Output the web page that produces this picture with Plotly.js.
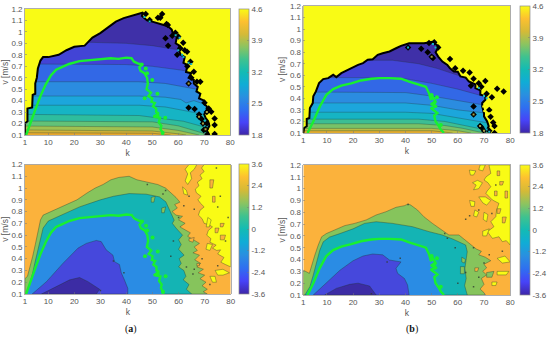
<!DOCTYPE html>
<html><head><meta charset="utf-8">
<script src="https://cdn.plot.ly/plotly-3.0.1.min.js"></script>
<style>html,body{margin:0;padding:0;background:#fff}#c{width:550px;height:338px}</style>
</head><body><div id="c"></div>
<script>
const kTicks=[1,10,20,30,40,50,60,70,80];
const vTicks=[0.1,0.2,0.3,0.4,0.5,0.6,0.7,0.8,0.9,1,1.1,1.2];
const topBarTicks=[1.8,2.5,3.2,3.9,4.6];
const botBarTicks=[-3.6,-2.4,-1.2,0,1.2,2.4,3.6];

// ---- panel (a), top: outer boundary, contour levels (top band to bottom band)
const aOuter=[[1,.1],[1,.2],[2,.22],[2,.33],[3.8,.34],[4,.45],[5,.46],[5,.55],[5.6,.6],[6,.68],[7,.75],[8,.78],[10,.78],[12,.79],[14,.8],[17,.84],[20,.87],[24,.88],[27,.95],[30,.99],[33,1.04],[36,1.09],[39,1.12],[42,1.14],[45,1.16],[46.5,1.17],[46,1.14],[48,1.1],[50,1.09],[53,1.07],[56,1.05],[57.5,1.02],[58,.98],[59.5,.96],[59,.9],[60.5,.88],[60,.85],[61,.8],[62.5,.78],[62,.73],[63.5,.71],[63,.65],[65,.64],[64,.6],[66,.58],[66,.55],[67.5,.52],[67,.48],[68.5,.46],[68,.42],[70,.4],[70,.37],[71,.35],[71,.32],[70,.28],[70.5,.25],[71.5,.22],[72,.18],[71,.14],[72,.1]];
const aLevels=[
 [[1,.91],[25,.91],[40,.9],[50,.88],[58,.85],[80,.8]],
 [[1,.72],[10,.72],[40,.715],[50,.7],[60,.67],[80,.6]],
 [[1,.565],[45,.565],[55,.55],[63,.52],[67,.5],[80,.47]],
 [[1,.44],[45,.44],[55,.43],[61,.41],[63,.38],[66,.4],[70,.37],[80,.35]],
 [[1,.36],[45,.36],[55,.345],[61,.32],[70,.28],[80,.25]],
 [[1,.28],[45,.27],[55,.24],[62,.22],[70,.17],[80,.12]],
 [[1,.222],[50,.215],[60,.18],[66,.14],[72,.1]],
 [[1,.178],[50,.17],[60,.14],[68,.1]],
 [[1,.144],[50,.135],[60,.11],[63,.1]],
 [[1,.12],[50,.115],[57,.1]]
];
const aRidge=[[1.5,.1],[3,.2],[5,.32],[7,.44],[9,.54],[11,.62],[13,.67],[15,.69],[18,.72],[22,.745],[26,.755],[30,.76],[34,.77],[37,.765],[40,.775],[42,.77],[43,.74],[45,.72],[46.5,.72],[45,.69],[45.5,.66],[47,.64],[48,.6],[48.3,.55],[47.8,.5],[49.5,.47],[48.5,.44],[50,.42],[49.7,.39],[51,.38],[50.3,.35],[51.5,.33],[51.5,.3],[52.5,.29],[50.5,.26],[53,.25],[52.5,.21],[53.5,.18],[53.2,.15],[54,.12],[54,.1]];
const aRidgeDots=[[47.5,.68],[48,.64],[50,.58],[52,.46],[47.1,.42],[55,.25],[52,.27],[54,.12]];
const aDiamonds=[[47.5,1.156],[49,1.104],[52.2,1.124],[53.1,1.124],[53.8,1.156],[55.5,1.069],[56,1.06],[58.9,.993],[57.7,.967],[60,.959],[55.1,.944],[61.9,.906],[56.1,.88],[60.8,.857],[62.5,.84],[63.4,.827],[59.6,.8],[64.7,.74],[63.5,.7],[66,.653],[65,.6],[68.5,.565],[67.2,.565],[64,.338],[66.3,.327],[70.1,.382],[71.7,.332],[72.7,.303],[74,.245],[74,.187],[71,.2],[69.8,.143],[74,.108],[71,.1],[68,.28],[69,.24],[68,.26],[69.5,.2],[70.5,.15],[71,.3],[64,.55]];
const aSpecksCyan=[[47,1.13],[49,1.09],[60,.84],[61.5,.8],[62,.78],[64,.73],[65,.72],[60.5,.95],[59,.97]];
const aSpecksOlive=[[68,.26],[69.5,.2],[70.5,.15],[71,.3],[64,.55]];

// ---- panel (b), top
const bOuter=[[1,.1],[1.3,.143],[2.3,.158],[2.3,.221],[3.3,.23],[3.5,.316],[4.6,.359],[4.8,.417],[5.8,.46],[6.3,.497],[7,.532],[8.6,.567],[10.5,.575],[12.4,.604],[13.6,.584],[15.5,.618],[17.4,.641],[19.3,.662],[21.9,.69],[23.8,.705],[25.6,.734],[27.5,.739],[29.4,.777],[31.3,.791],[33.9,.806],[36.4,.834],[38.3,.855],[41.4,.878],[47.1,.878],[50.3,.89],[52.8,.849],[51.5,.8],[52.5,.762],[54.1,.719],[56,.69],[57,.66],[58.5,.633],[60,.63],[61,.59],[63,.58],[64.2,.546],[66.7,.52],[66.7,.489],[68.6,.47],[68.6,.431],[70.5,.42],[70.5,.388],[69.3,.36],[69.3,.33],[70,.27],[70,.244],[71.2,.2],[71.8,.158],[71.2,.13],[72.4,.1]];
const bLevels=[
 [[1,.73],[24,.73],[35,.73],[45,.7],[52,.66],[60,.6],[65,.56],[80,.5]],
 [[1,.58],[30,.58],[40,.57],[50,.53],[60,.48],[68,.43],[80,.4]],
 [[1,.455],[40,.45],[50,.42],[60,.38],[68,.35],[80,.32]],
 [[1,.36],[40,.36],[50,.34],[60,.3],[68,.28],[80,.24]],
 [[1,.28],[40,.28],[50,.27],[60,.23],[68,.2],[80,.16]],
 [[1,.22],[45,.22],[55,.2],[62,.17],[70,.13],[80,.1]],
 [[1,.18],[45,.18],[55,.165],[62,.14],[68,.11],[72,.1]],
 [[1,.14],[50,.14],[60,.12],[65,.1]],
 [[1,.12],[50,.12],[58,.1]]
];
const bRidge=[[2.6,.1],[4.8,.2],[7.3,.33],[9.8,.43],[12.4,.48],[15.5,.51],[19.3,.53],[23,.555],[27,.57],[30,.575],[33.9,.575],[38.3,.57],[41.4,.545],[44.6,.52],[47.8,.5],[49,.445],[49.7,.388],[50.5,.41],[51.5,.37],[49.7,.35],[52,.33],[49.7,.316],[52.2,.273],[51,.25],[51.5,.2],[52.8,.158],[53.5,.13],[54.7,.1]];
const bRidgeDots=[[50,.43],[52,.41],[53.5,.17],[51,.36]];
const bDiamonds=[[41,.84],[46,.83],[48.5,.8],[49,.88],[51,.885],[52.5,.84],[50.5,.75],[57,.74],[59,.66],[62,.64],[64.5,.625],[66,.57],[65,.51],[68,.53],[70.5,.55],[69,.5],[71,.44],[73,.41],[75,.483],[77.5,.46],[66,.33],[66,.26],[72,.3],[72.5,.24],[73.5,.19],[74,.16],[72,.12],[74,.1],[69,.15],[68.5,.16],[70,.12],[50,.76]];
const bSpecksCyan=[[50.5,.87],[51.5,.84],[41,.84],[68,.49],[70,.42],[71,.4],[72,.11],[71,.13]];
const bSpecksOlive=[[66,.26],[68.5,.16],[70,.12],[50,.76]];
const bSpecksYellow=[[69.7,.33],[70.1,.29],[72,.27]];

// ---- panel (a), bottom
const cGreen=[[1,.1],[1,.23],[2,.25],[3,.33],[4,.42],[5,.52],[6,.63],[7,.73],[8,.77],[10,.79],[13,.82],[17,.86],[21,.9],[25,.96],[28,1],[31,1.03],[34,1.07],[37,1.09],[41,1.1],[44,1.07],[47.5,1.05],[52,1.03],[55,1],[57,.96],[59,.92],[60.5,.88],[58.5,.86],[59.5,.83],[57.5,.8],[59,.77],[61.5,.76],[60,.73],[62.5,.7],[60.5,.67],[62,.65],[64.5,.62],[63.5,.59],[65.5,.56],[68,.53],[66,.5],[67.2,.47],[65.5,.45],[68,.43],[66.2,.39],[68.5,.36],[67,.33],[69.5,.31],[67.5,.28],[70,.26],[68.2,.23],[70.5,.2],[69,.17],[71,.14],[69.5,.12],[71,.1]];
const cTeal=[[2,.1],[3,.18],[4,.28],[5,.38],[6,.48],[7,.58],[8,.66],[10,.72],[14,.76],[18,.8],[22,.84],[26,.87],[30,.9],[35,.93],[41,.953],[47.5,.948],[52.6,.925],[55.1,.883],[57,.784],[58.3,.727],[57.6,.7],[59,.66],[61.5,.6],[60,.56],[61,.52],[60,.48],[62.1,.43],[60.2,.4],[61,.36],[60,.33],[62,.3],[62.8,.25],[61.8,.22],[64,.18],[63,.14],[65,.1]];
const cIndigo=[[3.8,.1],[9.3,.205],[15.6,.36],[21.4,.49],[24.6,.53],[28.4,.555],[30.3,.545],[32.2,.475],[34.8,.43],[35.4,.375],[37.3,.35],[38,.28],[39.2,.22],[40.5,.148],[40.5,.1]];
const cDark=[[7.4,.1],[13.1,.162],[18.2,.22],[22,.24],[25.2,.205],[29.7,.14],[28.4,.1]];
const cYellow=[[69.8,1.2],[68.8,1.17],[69.8,1.14],[68.2,1.11],[69,1.08],[67.2,1.05],[67.8,1.02],[66.4,.99],[66.8,.96],[68.6,.93],[67.4,.9],[68.4,.87],[69.8,.84],[68.2,.81],[67.6,.77],[69,.74],[69.8,.7],[71.5,.69],[73,.67],[71.4,.64],[70.8,.6],[72.4,.57],[72,.54],[74.4,.515],[73,.49],[74.6,.47],[76.1,.475],[75,.44],[77.4,.41],[76.2,.37],[78,.35],[80,.33],[80,1.2]];
const cYellowIslands=[
 [[64,1.2],[67,1.2],[66,1.16],[64.5,1.13],[65,1.08],[63.5,1.03],[62.5,1.06],[63.5,1.12],[62.5,1.16]],
 [[61.5,1.01],[63,.98],[63.5,.94],[62,.95]],
 [[71.2,.75],[72.5,.73],[71.8,.67],[70.6,.67]],
 [[74,.3],[77,.31],[79.5,.28],[77,.26],[75,.26]],
 [[72,.25],[74,.25],[74.5,.2],[73,.2]],
 [[71,.53],[73,.52],[72,.47],[70.5,.48]]
];
const cOrangeIslands=[[[72,1.07],[73.5,1.07],[73,1],[72,1]],[[73,.93],[74,.93],[74,.88],[73,.88]],[[74,.66],[75.5,.66],[75,.62],[74,.62]],[[76,.6],[78,.6],[77.5,.56],[76,.56]],[[76,.7],[77.5,.7],[77,.67],[76,.67]]];
const cGreenIslands=[[[53.5,.83],[55,.84],[54.5,.79],[53.5,.79]],[[49.5,.92],[51,.93],[50.5,.88],[49.5,.88]]];
const cOrangeOnGreen=[[[67,.36],[68,.36],[68,.34],[67,.34]],[[64,.57],[66,.58],[65.5,.54],[64,.55]]];
const cSpecks=[[74.5,1.17],[66,.31],[63,.33],[65.5,.27],[55,.98],[60,.75],[48,1.03],[54,.95],[58,.55],[39,.28],[35,.38],[64,.93],[66,.82],[62,.85],[75,.84],[78,.55],[72,.18],[69,.4],[75,.34],[57,.42],[76,.93],[79,.75],[30,.13]];

// ---- panel (b), bottom
const dGreen=[[1,.1],[1,.31],[3.3,.283],[4.2,.354],[5.4,.438],[6.7,.523],[8,.593],[9.8,.62],[13,.65],[16.8,.687],[20.6,.706],[25,.735],[28.8,.777],[32.6,.805],[36.4,.842],[39.6,.856],[41,.87],[42,.861],[44.6,.819],[47,.763],[50.3,.706],[54,.65],[56.6,.608],[60.4,.608],[63.6,.551],[65.5,.523],[67,.49],[69,.47],[68,.44],[70.5,.42],[72.6,.39],[70,.36],[71,.33],[69.5,.3],[71,.27],[69,.24],[70,.19],[68.5,.15],[70,.12],[70.5,.1]];
const dTeal=[[1.6,.1],[3.5,.17],[4.8,.27],[6,.38],[7.3,.48],[8.6,.55],[11,.59],[15,.62],[20,.66],[24.4,.706],[28.8,.72],[35,.706],[42.7,.678],[49,.636],[54,.608],[58,.574],[63,.523],[63.6,.466],[62.7,.325],[63.2,.24],[62.6,.18],[63.6,.1]];
const dIndigo=[[4.8,.1],[9.8,.2],[15,.31],[20,.39],[23.8,.43],[27.5,.447],[31.3,.44],[33.9,.396],[38.3,.38],[36.4,.326],[37,.283],[39.6,.24],[40.8,.185],[41.4,.1]];
const dDark=[[9.2,.1],[13.6,.156],[18.7,.19],[21.9,.2],[26.3,.176],[28.8,.1]];
const dYellow=[[71.9,1.2],[72.6,1.129],[70.8,1.1],[70,1.073],[71.5,1.05],[72.6,1.016],[71.2,.98],[70.7,.96],[73.2,.904],[75.7,.875],[74.8,.82],[74.5,.763],[72.6,.72],[73.8,.678],[71.3,.636],[73.2,.579],[75.7,.593],[77,.551],[78.5,.56],[80,.523],[80,1.2]];
const dYellowIslands=[
 [[64.4,1.157],[66.9,1.15],[66,1.115],[64.8,1.115]],
 [[65.6,1.05],[67.5,1.07],[69.4,1.05],[68,1],[66,.99],[67,1.03]],
 [[68,.93],[70.5,.93],[72.6,.9],[71,.86],[69.5,.88]],
 [[64.5,.9],[66.5,.89],[66.3,.85],[65,.85]],
 [[70,.8],[71.5,.78],[71,.72],[69.7,.74]],
 [[69.5,.64],[72,.66],[71,.6],[69.5,.6]],
 [[75,.3],[79.5,.3],[78.5,.27],[75,.27]],
 [[73,.21],[75,.21],[74.5,.18],[73,.18]],
 [[75,.41],[78,.43],[80,.38],[77,.37]],
 [[68.5,1.2],[70.5,1.2],[69.5,1.15],[68,1.16]],
 [[66.5,.82],[68,.8],[67.2,.76],[66,.77]]
];
const dOrangeIslands=[[[75,.83],[76.5,.83],[76,.79],[75,.79]],[[78,.98],[79,.98],[79,.92],[78,.92]],[[76,1.06],[77.5,1.06],[77,1.03],[76,1.03]],[[77,.76],[78.5,.76],[78,.71],[77,.71]],[[75,1.15],[76,1.15],[76,1.11],[75,1.11]],[[74,.98],[75,.98],[75,.94],[74,.94]]];
const dGreenIslands=[[[61,.34],[62.5,.34],[62.5,.28],[61,.28]],[[61.5,.42],[63,.4],[62.5,.37],[61.5,.38]],[[71,.29],[73.8,.3],[73,.25],[71,.25]]];
const dOrangeOnGreen=[[[66.5,.33],[68,.33],[67.5,.3],[66.5,.3]]];
const dSpecks=[[41,.865],[55,.62],[56,.58],[63,.74],[66,.5],[59,.5],[63,.29],[68,.25],[66,.17],[38,.41],[27,.11],[33,.38],[60,.2],[64.5,.77],[72,.44],[70,.37],[77,.47],[68,.82],[73,.79],[74.5,1.03]];

// ---- colour maps
const parula=[[0,'#3e26a8'],[.1,'#4743f8'],[.2,'#2f6ff0'],[.3,'#2a8fe0'],[.4,'#10acd6'],[.5,'#13bbb4'],[.6,'#3fc28f'],[.7,'#8cc460'],[.8,'#d5ba37'],[.9,'#fdc030'],[1,'#f9fb15']];
const bandsA=['#4244d6','#3268e6','#2b8ce0','#1ca6dc','#16b4c4','#2ebd9e','#62c278','#a0c050','#d0b238','#e6a82e'];
const bandsB=['#4244d6','#3268e6','#2b8ce0','#1ca6dc','#16b4c4','#3cbe94','#78c268','#b8bc44','#e0ac30'];
const C={y:'#f9fb15',band1:'#3f30a8',o:'#fbb23c',g:'#86c45c',t:'#14b4b4',b:'#2a8ce4',i:'#4648dc',d:'#3c2ca4',
 edge:'rgba(35,50,45,.6)',lime:'#18f030',ax:'#8c8c8c',txt:'#555'};

const W=550,H=338;
const panels=[
 {n:'',  l:25, r:231.5,t:9,  b:135},
 {n:'2', l:305,r:513,  t:6,  b:133},
 {n:'3', l:25, r:232,  t:164.5,b:294},
 {n:'4', l:305,r:513,  t:165,b:295}
];
const traces=[];
const X=p=>p.map(q=>q[0]), Y=p=>p.map(q=>q[1]);
function poly(i,pts,fill,lw){const a=panels[i].n;
 traces.push({type:'scatter',mode:lw?'lines':'none',x:X(pts).concat(pts[0][0]),y:Y(pts).concat(pts[0][1]),
  xaxis:'x'+a,yaxis:'y'+a,fill:'toself',fillcolor:fill,line:{color:C.edge,width:lw||0},hoverinfo:'skip',showlegend:false});}
function band(i,pts,fill){const a=panels[i].n;
 traces.push({type:'scatter',mode:'lines',x:X(pts),y:Y(pts),xaxis:'x'+a,yaxis:'y'+a,fill:'tozeroy',fillcolor:fill,
  line:{color:C.edge,width:.5},hoverinfo:'skip',showlegend:false});}
function line(i,pts,color,w){const a=panels[i].n;
 traces.push({type:'scatter',mode:'lines',x:X(pts),y:Y(pts),xaxis:'x'+a,yaxis:'y'+a,line:{color,width:w},hoverinfo:'skip',showlegend:false});}
function dots(i,pts,color,size,sym){const a=panels[i].n;
 traces.push({type:'scatter',mode:'markers',x:X(pts),y:Y(pts),xaxis:'x'+a,yaxis:'y'+a,
  marker:{color,size,symbol:sym||'circle',line:{width:0}},hoverinfo:'skip',showlegend:false});}
function rect(i,fill){poly(i,[[1,.1],[80,.1],[80,1.2],[1,1.2]],fill);}

function topPanel(i,outer,levels,bands,ridge,rdots,dia,cy,ol,ye){
 rect(i,C.band1);
 levels.forEach((lv,j)=>band(i,lv,bands[j]));
 poly(i,outer.concat([[80,.1],[80,1.2],[1,1.2]]),C.y);
 line(i,outer,'#000',2);
 dots(i,dia,'#000',5,'diamond');
 dots(i,cy,'#14b8c8',2,'square');
 dots(i,ol,'#a8a040',2,'square');
 if(ye)dots(i,ye,C.y,2,'square');
 line(i,ridge,C.lime,2.4);
 dots(i,rdots,C.lime,4);
}
function botPanel(i,green,teal,indigo,dark,yellow,yi,oi,gi,og,sp,ridge,rdots){
 rect(i,C.o);
 poly(i,green.concat([[1,.1]]),C.g,.6);
 poly(i,teal,C.t,.6);
 poly(i,[teal[0]].concat(ridge,[[2,.1]]),C.b);
 poly(i,indigo,C.i,.6);
 poly(i,dark,C.d,.6);
 poly(i,yellow,C.y,.6);
 yi.forEach(p=>poly(i,p,C.y,.6));
 oi.forEach(p=>poly(i,p,C.o,.6));
 gi.forEach(p=>poly(i,p,C.g,.6));
 og.forEach(p=>poly(i,p,C.o,.6));
 dots(i,sp,'rgba(50,60,50,.8)',1.5,'square');
 line(i,ridge,C.lime,2.4);
 dots(i,rdots,C.lime,4);
}
topPanel(0,aOuter,aLevels,bandsA,aRidge,aRidgeDots,aDiamonds,aSpecksCyan,aSpecksOlive);
topPanel(1,bOuter,bLevels,bandsB,bRidge,bRidgeDots,bDiamonds,bSpecksCyan,bSpecksOlive,bSpecksYellow);
botPanel(2,cGreen,cTeal,cIndigo,cDark,cYellow,cYellowIslands,cOrangeIslands,cGreenIslands,cOrangeOnGreen,cSpecks,aRidge,aRidgeDots);
botPanel(3,dGreen,dTeal,dIndigo,dDark,dYellow,dYellowIslands,dOrangeIslands,dGreenIslands,dOrangeOnGreen,dSpecks,bRidge,bRidgeDots);

// colorbars
const bars=[{x:240,p:0,min:1.8,max:4.6,t:topBarTicks},{x:523,p:1,min:1.8,max:4.6,t:topBarTicks},
            {x:240,p:2,min:-3.6,max:3.6,t:botBarTicks},{x:523,p:3,min:-3.6,max:3.6,t:botBarTicks}];
bars.forEach(b=>{const P=panels[b.p];
 traces.push({type:'scatter',mode:'markers',x:[40,40],y:[.5,.5],xaxis:'x'+P.n,yaxis:'y'+P.n,opacity:0,hoverinfo:'skip',showlegend:false,
  marker:{size:1,color:[b.min,b.max],cmin:b.min,cmax:b.max,colorscale:parula,showscale:true,
   colorbar:{x:b.x/W,xanchor:'left',xref:'paper',xpad:0,ypad:0,thickness:9.5,thicknessmode:'pixels',
    y:1-P.b/H,yanchor:'bottom',yref:'paper',len:P.b-P.t,lenmode:'pixels',outlinecolor:C.ax,outlinewidth:.7,borderwidth:0,
    tickmode:'array',tickvals:b.t,ticktext:b.t.map(String),ticks:'inside',ticklen:2,tickwidth:.5,tickcolor:'#777',
    tickfont:{family:'Liberation Sans',size:8,color:C.txt}}}});
});

const layout={width:W,height:H,margin:{l:0,r:0,t:0,b:0},paper_bgcolor:'#fff',plot_bgcolor:'#fff',showlegend:false,
 font:{family:'Liberation Sans',size:8,color:C.txt},
 annotations:[
  {text:'(<b>a</b>)',x:132/W,y:1-329/H,xref:'paper',yref:'paper',showarrow:false,xanchor:'center',yanchor:'middle',font:{family:'Liberation Serif',size:10,color:'#111'}},
  {text:'(<b>b</b>)',x:414/W,y:1-329/H,xref:'paper',yref:'paper',showarrow:false,xanchor:'center',yanchor:'middle',font:{family:'Liberation Serif',size:10,color:'#111'}}
 ]};
panels.forEach((P,i)=>{
 const common={showgrid:false,zeroline:false,showline:true,mirror:true,linecolor:C.ax,linewidth:.7,ticks:'inside',ticklen:2,tickwidth:.5,tickcolor:'#777',
  tickfont:{family:'Liberation Sans',size:8,color:C.txt},layer:'above traces',fixedrange:true};
 layout['xaxis'+P.n]=Object.assign({},common,{domain:[P.l/W,P.r/W],range:[1,80],tickmode:'array',tickvals:kTicks,ticktext:kTicks.map(String),tickangle:0,
  anchor:'y'+P.n,title:{text:'k',standoff:3,font:{family:'Liberation Sans',size:8.5,color:C.txt}}});
 layout['yaxis'+P.n]=Object.assign({},common,{domain:[1-P.b/H,1-P.t/H],range:[.1,1.2],tickmode:'array',tickvals:vTicks,ticktext:vTicks.map(String),
  anchor:'x'+P.n,title:{text:'v [m/s]',standoff:2,font:{family:'Liberation Sans',size:8.5,color:C.txt}}});
});
Plotly.newPlot('c',traces,layout,{staticPlot:true,displayModeBar:false});
</script></body></html>
